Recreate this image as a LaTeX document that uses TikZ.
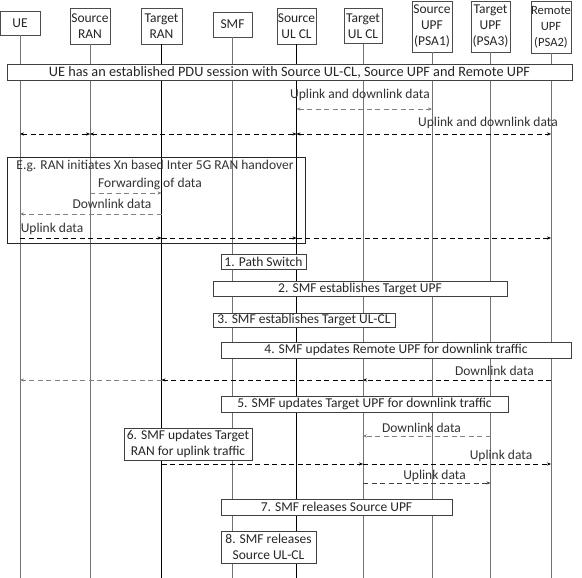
\documentclass[tikz,border=0pt]{standalone}
\usepackage{fontspec}
\setmainfont{Carlito}
\usetikzlibrary{arrows.meta}
\begin{document}
\begin{tikzpicture}[x=1pt,y=-1pt,
  every node/.style={font=\fontsize{13.5}{16}\selectfont, inner sep=0pt, text=black!85},
  hdr/.style={draw=black!70, fill=white, align=center, line width=0.8pt},
  stepbox/.style={draw=black!75, fill=white, align=center, line width=0.8pt},
  life/.style={line width=0.9pt, draw=black!55},
  lifeb/.style={line width=0.9pt, draw=black},
  tip/.tip={Stealth[length=4pt,width=3.2pt]},
  msg/.style={dash pattern=on 5pt off 3.5pt, line width=0.8pt, draw=black, -tip},
  gmsg/.style={dash pattern=on 5pt off 3.5pt, line width=0.8pt, draw=black!50, -tip},
  bmsg/.style={dash pattern=on 5pt off 3.5pt, line width=0.8pt, draw=black, tip-tip},
  gbmsg/.style={dash pattern=on 5pt off 3.5pt, line width=0.8pt, draw=black!50, tip-tip},
  lbl/.style={text=black!80}
]
\useasboundingbox (0,0) rectangle (582,578);
\fill[white] (0,0) rectangle (582,578);

% headers
\node[hdr, minimum width=40pt, minimum height=24pt] (ue)    at (20,23)    {UE};
\node[hdr, minimum width=40pt, minimum height=36pt] (sran)  at (90,26)    {Source\\RAN};
\node[hdr, minimum width=41pt, minimum height=36pt] (tran)  at (161.5,26) {Target\\RAN};
\node[hdr, minimum width=39pt, minimum height=25pt] (smf)   at (232.5,24.5) {SMF};
\node[hdr, minimum width=39pt, minimum height=36pt] (sulcl) at (296.5,26) {Source\\UL CL};
\node[hdr, minimum width=38pt, minimum height=35pt] (tulcl) at (363,26)   {Target\\UL CL};
\node[hdr, minimum width=40pt, minimum height=51pt] (supf)  at (432,26.5) {Source\\UPF\\(PSA1)};
\node[hdr, minimum width=39pt, minimum height=51pt] (tupf)  at (490.5,26.5) {Target\\UPF\\(PSA3)};
\node[hdr, minimum width=40pt, minimum height=52pt, font=\fontsize{12.6}{16}\selectfont] (rupf)  at (551,27)   {Remote\\UPF\\(PSA2)};

\coordinate (bot) at (0,578);
\draw[life]  (ue.south)    -- (ue |- bot);
\draw[life]  (sran.south)  -- (sran |- bot);
\draw[lifeb] (tran.south)  -- (tran |- bot);
\draw[life]  (smf.south)   -- (smf |- bot);
\draw[lifeb] (sulcl.south) -- (sulcl |- bot);
\draw[life]  (tulcl.south) -- (tulcl |- bot);
\draw[life]  (supf.south)  -- (supf |- bot);
\draw[life]  (tupf.south)  -- (tupf |- bot);
\draw[life]  (rupf.south)  -- (rupf |- bot);

% established session
\node[stepbox, minimum width=565pt, minimum height=16pt, font=\fontsize{14.3}{16}\selectfont] (sess) at (289.5,72)
  {UE has an established PDU session with Source UL-CL, Source UPF and Remote UPF};

\node[lbl] (l1) at (360,95) {Uplink and downlink data};
\coordinate (m1) at (0,109);
\draw[gbmsg] (sulcl |- m1) -- (supf |- m1);

\node[lbl] (l2) at (488,123) {Uplink and downlink data};
\coordinate (m2) at (0,134);
\draw[bmsg] (ue |- m2) -- (sran |- m2);
\draw[bmsg] (sran |- m2) -- (sulcl |- m2);
\draw[bmsg] (sulcl |- m2) -- (rupf |- m2);

% handover box
\node[draw=black!85, line width=0.8pt, minimum width=298pt, minimum height=86pt] (ho) at (156,200) {};
\node[lbl] (hot) at (155,166) {E.g. RAN initiates Xn based Inter 5G RAN handover};
\node[lbl] (l3) at (150,184) {Forwarding of data};
\coordinate (m3) at (0,193);
\draw[gmsg] (sran |- m3) -- (tran |- m3);
\node[lbl] (l4) at (112,204) {Downlink data};
\coordinate (m4) at (0,214);
\draw[gmsg] (tran |- m4) -- (ue |- m4);
\node[lbl] (l5) at (52,229) {Uplink data};
\coordinate (m5) at (0,238);
\draw[msg] (ue |- m5) -- (tran |- m5);
\draw[msg] (tran |- m5) -- (sulcl |- m5);
\draw[msg] (sulcl |- m5) -- (rupf |- m5);

% steps
\node[stepbox, minimum width=85pt, minimum height=15pt] (s1) at (263.5,261.5) {1. Path Switch};
\node[stepbox, minimum width=294pt, minimum height=15pt] (s2) at (360,288.5) {2. SMF establishes Target UPF};
\node[stepbox, minimum width=182pt, minimum height=14pt] (s3) at (304,320) {3. SMF establishes Target UL-CL};
\node[stepbox, minimum width=350pt, minimum height=16pt] (s4) at (396,350) {4. SMF updates Remote UPF for downlink traffic};

\node[lbl] (l6) at (494.5,371) {Downlink data};
\coordinate (m6) at (0,380);
\draw[msg] (rupf |- m6) -- (tulcl |- m6);
\draw[msg] (tulcl |- m6) -- (tran |- m6);
\draw[gmsg] (tran |- m6) -- (ue |- m6);

\node[stepbox, minimum width=287pt, minimum height=16pt] (s5) at (364.5,404) {5. SMF updates Target UPF for downlink traffic};
\node[stepbox, minimum width=128pt, minimum height=32pt] (s6) at (188,444) {6. SMF updates Target\\RAN for uplink traffic};

\node[lbl] (l7) at (421.5,428) {Downlink data};
\coordinate (m7) at (0,436);
\draw[gmsg] (tupf |- m7) -- (tulcl |- m7);

\node[lbl] (l8) at (501,456) {Uplink data};
\coordinate (m8) at (0,464);
\draw[msg] (tran |- m8) -- (tulcl |- m8);
\draw[msg] (tulcl |- m8) -- (rupf |- m8);

\node[lbl] (l9) at (434.5,476) {Uplink data};
\coordinate (m9) at (0,483);
\draw[msg, draw=black!75] (tulcl |- m9) -- (tupf |- m9);

\node[stepbox, minimum width=231pt, minimum height=16pt] (s7) at (336.5,507) {7. SMF releases Source UPF};
\node[stepbox, minimum width=95pt, minimum height=32pt] (s8) at (268.5,547) {8. SMF releases\\Source UL-CL};
\end{tikzpicture}
\end{document}
